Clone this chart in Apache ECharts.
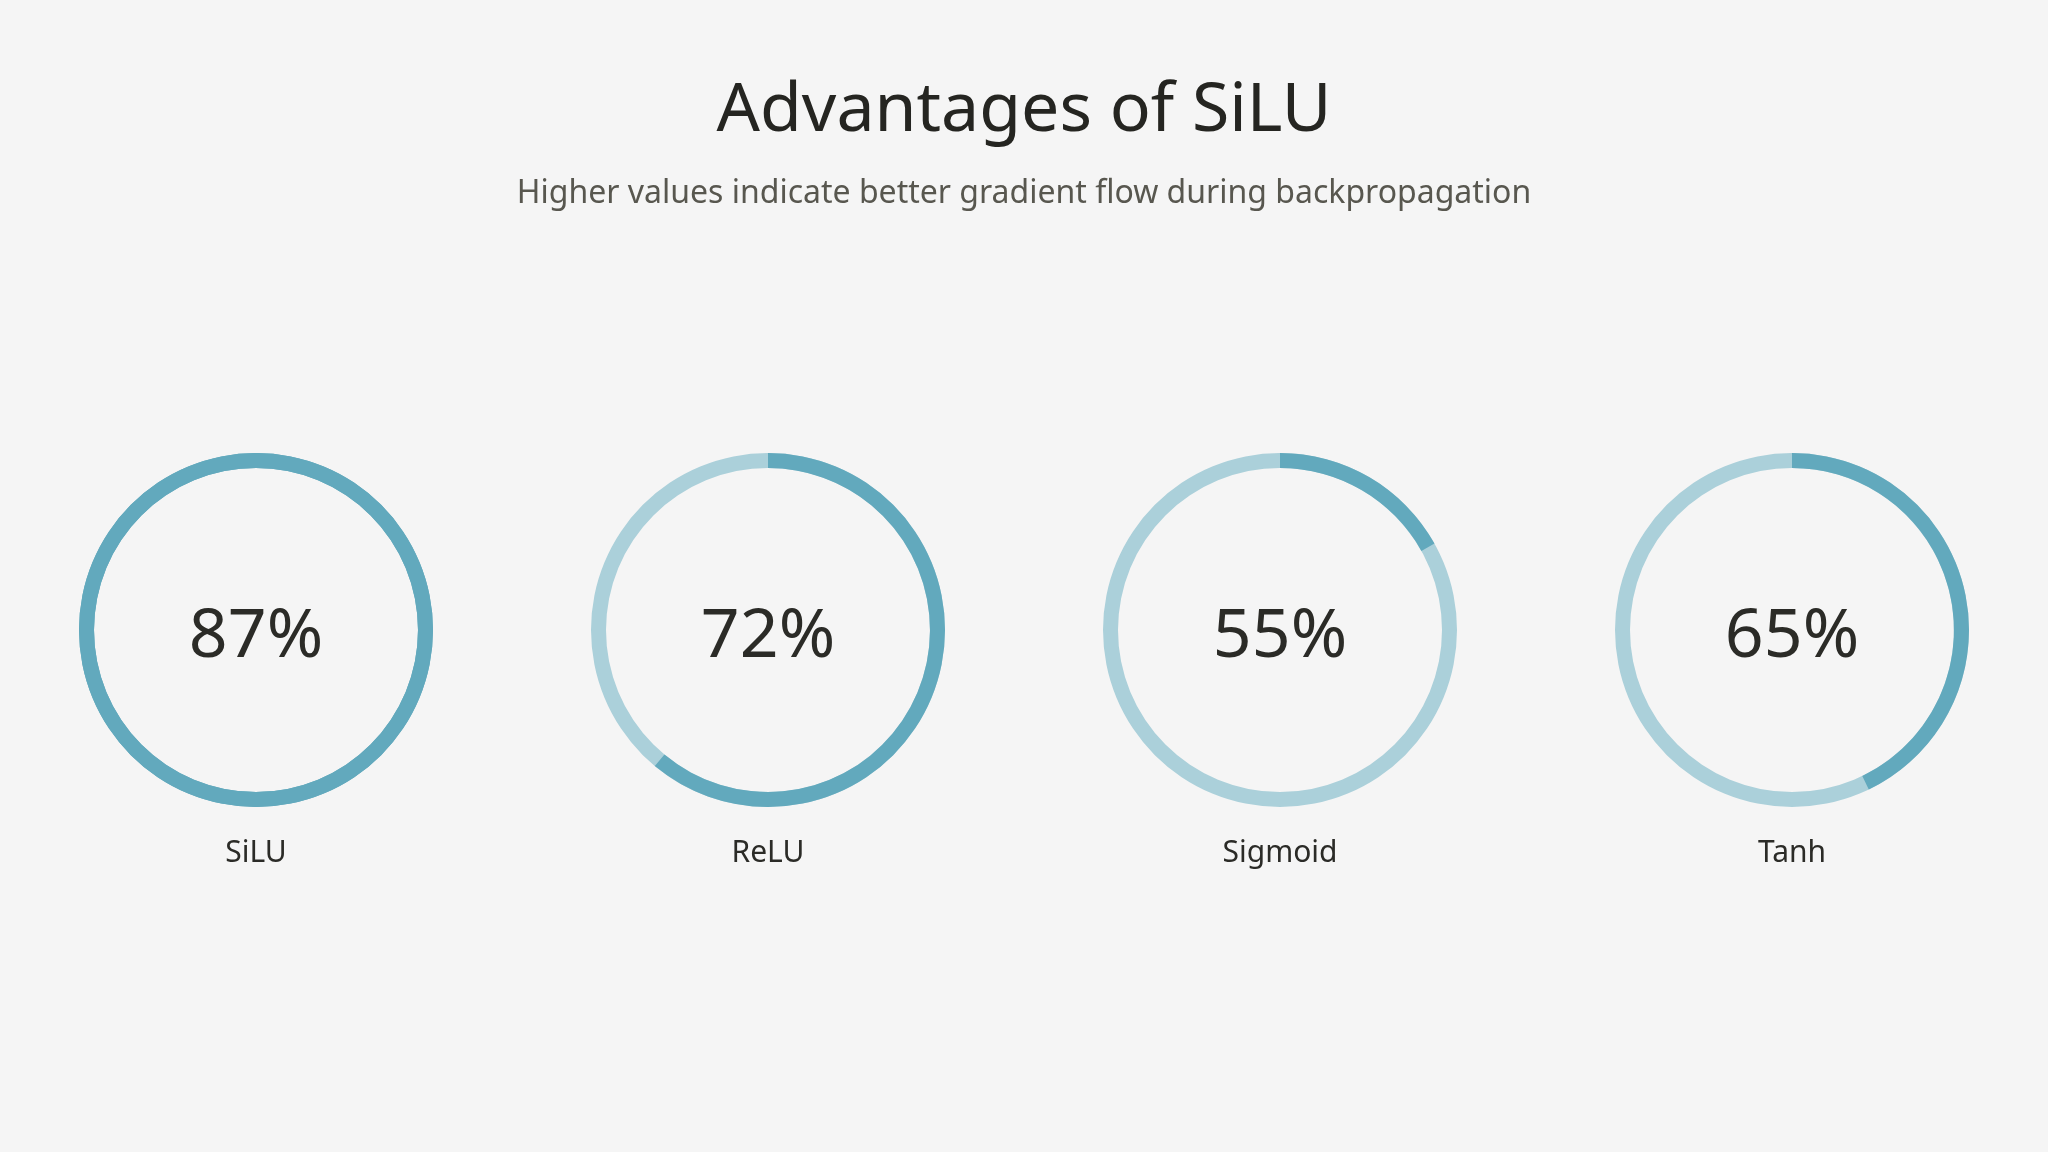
<!DOCTYPE html>
<html>
<head>
<meta charset="utf-8">
<title>Advantages of SiLU</title>
<script src="https://cdn.jsdelivr.net/npm/echarts@6/dist/echarts.min.js"></script>
<style>
  html, body {
    margin: 0;
    padding: 0;
    background: #f5f5f5;
  }
  #chart {
    width: 2048px;
    height: 1152px;
  }
</style>
</head>
<body>
<div id="chart"></div>
<script>
// activation functions and their gradient flow score (%)
const names = ['SiLU', 'ReLU', 'Sigmoid', 'Tanh'];
const scores = [87, 72, 55, 65];
// ring scale: the rings start well above zero
const scaleMin = 48.5;
const scaleMax = 87;

const DARK = '#62a9bd';
const LIGHT = '#abd0da';
// SiLU's ring has no visible track
const trackColors = [DARK, LIGHT, LIGHT, LIGHT];

const centersX = ['12.5%', '37.5%', '62.5%', '87.5%'];

const myChart = echarts.init(document.getElementById('chart'));

const series = names.map((name, i) => ({
  type: 'gauge',
  center: [centersX[i], 630],
  radius: 177,
  startAngle: 90,
  endAngle: -270,
  min: scaleMin,
  max: scaleMax,
  clockwise: true,
  pointer: { show: false },
  anchor: { show: false },
  axisTick: { show: false },
  splitLine: { show: false },
  axisLabel: { show: false },
  axisLine: {
    lineStyle: {
      width: 15,
      color: [[1, trackColors[i]]],
    },
  },
  progress: {
    show: true,
    width: 15,
    roundCap: false,
    itemStyle: { color: DARK },
  },
  title: {
    offsetCenter: [0, 223],
    fontSize: 30,
    color: '#2b2b27',
    fontFamily: 'Noto Sans',
  },
  detail: {
    offsetCenter: [0, 8],
    fontSize: 68,
    fontWeight: 'normal',
    color: '#2b2b27',
    fontFamily: 'Noto Sans',
    formatter: (v) => v + '%',
  },
  data: [{ name: name, value: scores[i] }],
}));

const option = {
  backgroundColor: '#f5f5f5',
  animation: false,
  title: [
    {
      text: 'Advantages of SiLU',
      left: 'center',
      top: 72,
      padding: 0,
      textStyle: {
        fontSize: 68,
        lineHeight: 80,
        fontWeight: 'normal',
        color: '#252521',
        fontFamily: 'Noto Sans',
      },
    },
    {
      text: 'Higher values indicate better gradient flow during backpropagation',
      left: 'center',
      top: 174,
      padding: 0,
      textStyle: {
        fontSize: 32,
        lineHeight: 40,
        fontWeight: 'normal',
        color: '#58574f',
        fontFamily: 'Noto Sans',
      },
    },
  ],
  series: series,
};

myChart.setOption(option);
window.addEventListener('resize', () => myChart.resize());
</script>
</body>
</html>
